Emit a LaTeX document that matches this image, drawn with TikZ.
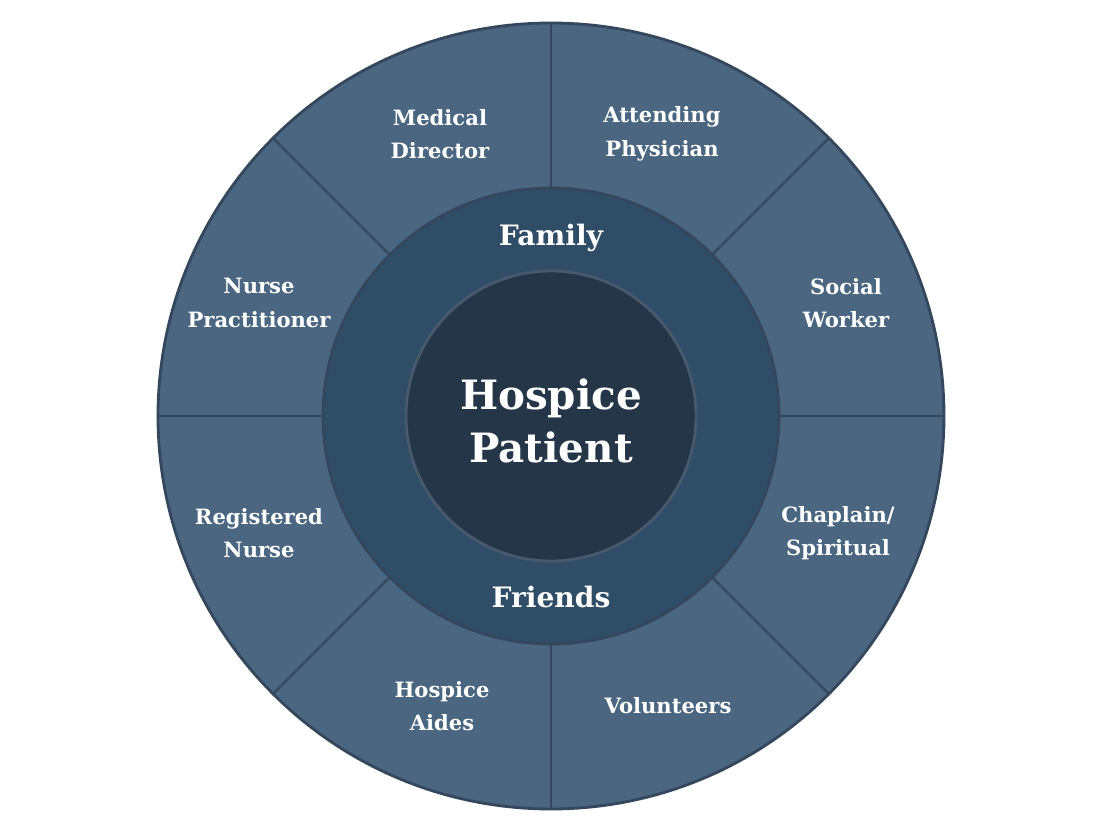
\documentclass[tikz,border=0pt]{standalone}
\usepackage{fontspec}
\setmainfont{DejaVu Serif}
\usepackage{xcolor}
\usepackage{tikz}

\definecolor{ringblue}{HTML}{4A6680}
\definecolor{midblue}{HTML}{2F4D66}
\definecolor{coreblue}{HTML}{263649}
\definecolor{edgeblue}{HTML}{34475D}

\begin{document}
\begin{tikzpicture}[
    ring/.style={circle, draw=edgeblue, line width=1.6pt},
    divider/.style={draw=edgeblue, line width=1.3pt},
    role/.style={align=center, text=white, font=\bfseries\fontsize{12}{19}\selectfont},
    circle label/.style={align=center, text=white, font=\bfseries\fontsize{16}{20}\selectfont}
]
    \useasboundingbox (-11.02,-8.26) rectangle (10.98,8.32);

    % Outer ring - care team
    \node[ring, fill=ringblue, minimum size=15.72cm, inner sep=0pt] (team) at (0,0) {};
    \draw[divider] (0:4.5) -- (0:7.86);
    \draw[divider] (45:4.5) -- (45:7.86);
    \draw[divider] (90:4.5) -- (90:7.86);
    \draw[divider] (135:4.5) -- (135:7.86);
    \draw[divider] (180:4.5) -- (180:7.86);
    \draw[divider] (225:4.5) -- (225:7.86);
    \draw[divider] (270:4.5) -- (270:7.86);
    \draw[divider] (315:4.5) -- (315:7.86);

    % Middle ring - family and friends
    \node[ring, fill=midblue, minimum size=9.12cm, inner sep=0pt] (circle) at (0,0) {};

    % Inner core - patient
    \node[ring, fill=coreblue, draw=edgeblue!90!white, minimum size=5.8cm, inner sep=0pt] (core) at (0,0) {};

    % Labels
    \node[role] (director) at (-2.22,5.64) {Medical\\Director};
    \node[role] (physician) at (2.22,5.64) {Attending\\Physician};
    \node[role] (social) at (5.9,2.26) {Social\\Worker};
    \node[role] (chaplain) at (5.74,-2.34) {Chaplain/\\Spiritual};
    \node[role] (volunteers) at (2.34,-5.8) {Volunteers};
    \node[role] (aides) at (-2.18,-5.8) {Hospice\\Aides};
    \node[role] (rn) at (-5.84,-2.34) {Registered\\Nurse};
    \node[role] (np) at (-5.84,2.26) {Nurse\\Practitioner};
    \node[circle label] (family) at (0,3.56) {Family};
    \node[circle label] (friends) at (0,-3.62) {Friends};
    \node[align=center, text=white, font=\bfseries\fontsize{23}{30.6}\selectfont] (patient) at (0,-0.1) {Hospice\\Patient};
\end{tikzpicture}
\end{document}
